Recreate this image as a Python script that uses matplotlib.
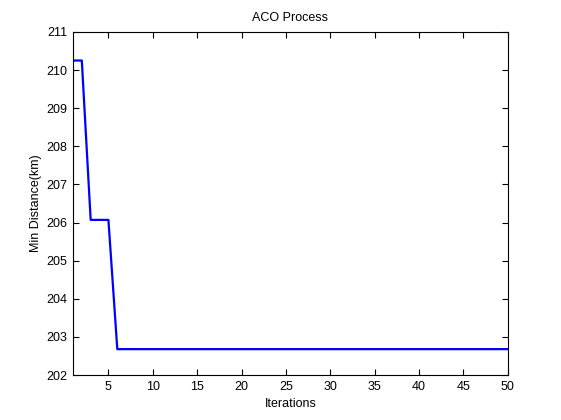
import matplotlib
matplotlib.use("Agg")
import matplotlib.pyplot as plt
import numpy as np

iterations = list(range(1, 51))
min_distance = [210.25, 210.25, 206.07, 206.07, 206.07] + [202.68] * 45
x_ticks = [5, 10, 15, 20, 25, 30, 35, 40, 45, 50]
y_ticks = [202, 203, 204, 205, 206, 207, 208, 209, 210, 211]

plt.rcParams['font.family'] = ['Liberation Sans', 'DejaVu Sans']
fig = plt.figure(figsize=(5.61, 4.2), dpi=100)
ax = fig.add_axes([0.130, 0.107, 0.775, 0.817])
ax.plot(iterations, min_distance, color='#0000ff', linewidth=1.6)
ax.set_xlim(1, 50)
ax.set_ylim(202, 211)
ax.set_xticks(x_ticks)
ax.set_yticks(y_ticks)
ax.tick_params(direction='in', length=4, width=0.8, labelsize=9, top=True, right=True, pad=4)
for s in ax.spines.values():
    s.set_linewidth(0.8)
ax.set_title('ACO Process', fontsize=9, pad=8)
ax.set_xlabel('Iterations', fontsize=9, labelpad=4)
ax.set_ylabel('Min Distance(km)', fontsize=9, labelpad=3)
fig.savefig('out.png', dpi=100, facecolor='white')
